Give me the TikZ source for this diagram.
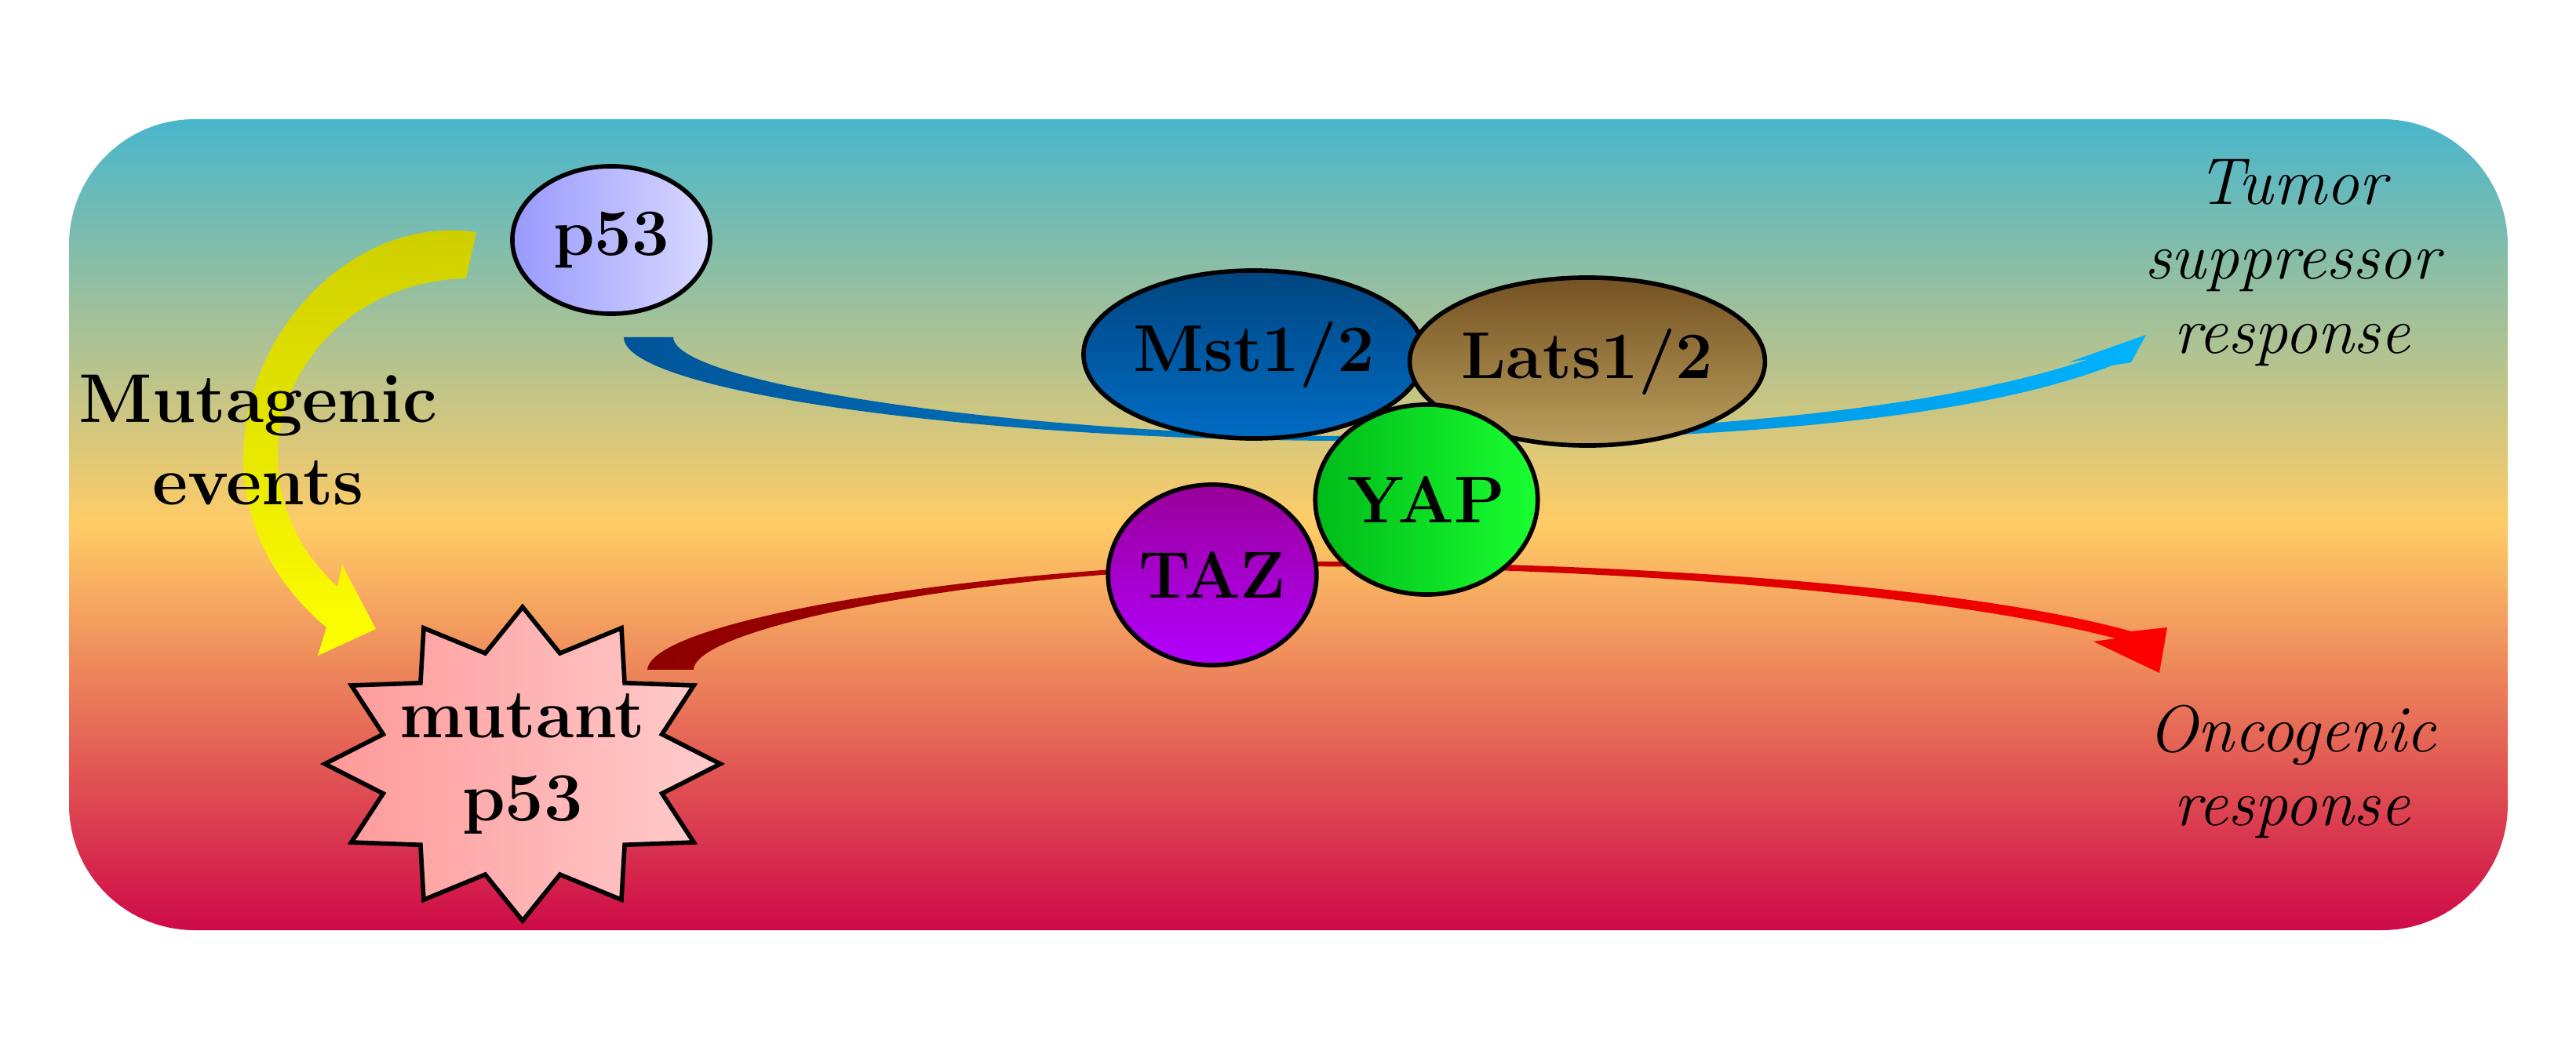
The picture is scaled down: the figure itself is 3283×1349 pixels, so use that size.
\documentclass[tikz,border=0pt]{standalone}
\usepackage{xcolor}
\usepackage{tikz}
\usetikzlibrary{calc, shapes, positioning}
\definecolor{bgtop}{HTML}{48B6CC}
\definecolor{bgmid}{HTML}{FFCC66}
\definecolor{bgbot}{HTML}{CE0A48}
\definecolor{msttop}{HTML}{00457F}
\definecolor{mstbot}{HTML}{006CC4}
\tikzset{
    bignode/.style = {draw, ellipse, line width=1.6pt, inner sep=0em, font=\fontsize{24}{28}\selectfont\bfseries},
    labelnode/.style = {draw=none, fill=none, inner sep=0em, align=center, font=\fontsize{25}{30}\selectfont\bfseries},
    outnode/.style = {draw=none, fill=none, inner sep=0em, align=center, font=\fontsize{24}{27}\selectfont\itshape},
    every text node part/.style={align=center}
}

\begin{document}
\begin{tikzpicture}[x=0.01cm, y=-0.01cm]
    \useasboundingbox (0,0) rectangle (3283,1349);
    % background
    \shade [rounded corners=1.6cm, top color=bgtop, bottom color=bgbot, middle color=bgmid]
        (88,152) rectangle (3196,1186);

    % yellow arrow
    \shade [top color=yellow!80!black, bottom color=yellow]
        (607,296) .. controls (380,262) and (180,600) .. (416,800)
        -- (405,836) -- (479,802) -- (436,720) -- (430,748)
        .. controls (270,600) and (380,360) .. (594,355) -- cycle;

    % blue arrow
    \shade [left color=blue!45!cyan!60!black, right color=cyan!70!blue]
        (795,430) -- (858,430) .. controls (860,490) and (1300,552) .. (1700,556)
        .. controls (2150,556) and (2480,520) .. (2662,458) -- (2636,462) -- (2735,427)
        -- (2716,462) -- (2692,466) .. controls (2500,540) and (2150,566) .. (1700,562)
        .. controls (1250,560) and (795,500) .. cycle;

    % red arrow
    \shade [left color=red!55!black, right color=red]
        (825,854) .. controls (830,790) and (1250,722) .. (1650,716)
        .. controls (2100,716) and (2520,750) .. (2716,805) -- (2762,800) -- (2752,858)
        -- (2668,818) -- (2696,814) .. controls (2500,762) and (2100,724) .. (1650,722)
        .. controls (1250,726) and (884,800) .. (884,854) -- cycle;

    % nodes
    \node [name=p53, bignode, minimum width=2.52cm, minimum height=1.88cm,
        left color=blue!40!white, right color=blue!15!white] at (779,306) {p53};
    \node [name=mst, bignode, minimum width=3.02cm, minimum height=2.14cm,
        top color=msttop, bottom color=mstbot] at (1598,452) {Mst1/2};
    \node [name=lats, bignode, minimum width=3.26cm, minimum height=2.14cm,
        top color=brown!60!black!90!olive, bottom color=brown!60!olive!75!white] at (2023,461) {Lats1/2};
    \node [name=yap, bignode, minimum width=2.52cm, minimum height=2.42cm,
        left color=green!70!black!90!cyan, right color=green!90!cyan!90!white] at (1818,637) {YAP};
    \node [name=taz, bignode, minimum width=2.52cm, minimum height=2.30cm,
        top color=violet!80!magenta, bottom color=magenta!70!blue] at (1545,733) {TAZ};

    \draw [line width=1.6pt, left color=red!40!white, right color=red!20!white, shift={(666,974)}]
        (0:252 and 200) \foreach \i in {1,...,23} {
            -- ({\i*15}:{252*(1-0.27*mod(\i,2))} and {200*(1-0.27*mod(\i,2))}) } -- cycle;
    \node [name=mp53, labelnode] at (666,974) {mutant\\p53};

    % texts
    \node [name=mut, labelnode] at (329,561) {Mutagenic\\events};
    \node [name=tsr, outnode] at (2921,335) {Tumor\\suppressor\\response};
    \node [name=onc, outnode] at (2921,984) {Oncogenic\\response};
\end{tikzpicture}
\end{document}
